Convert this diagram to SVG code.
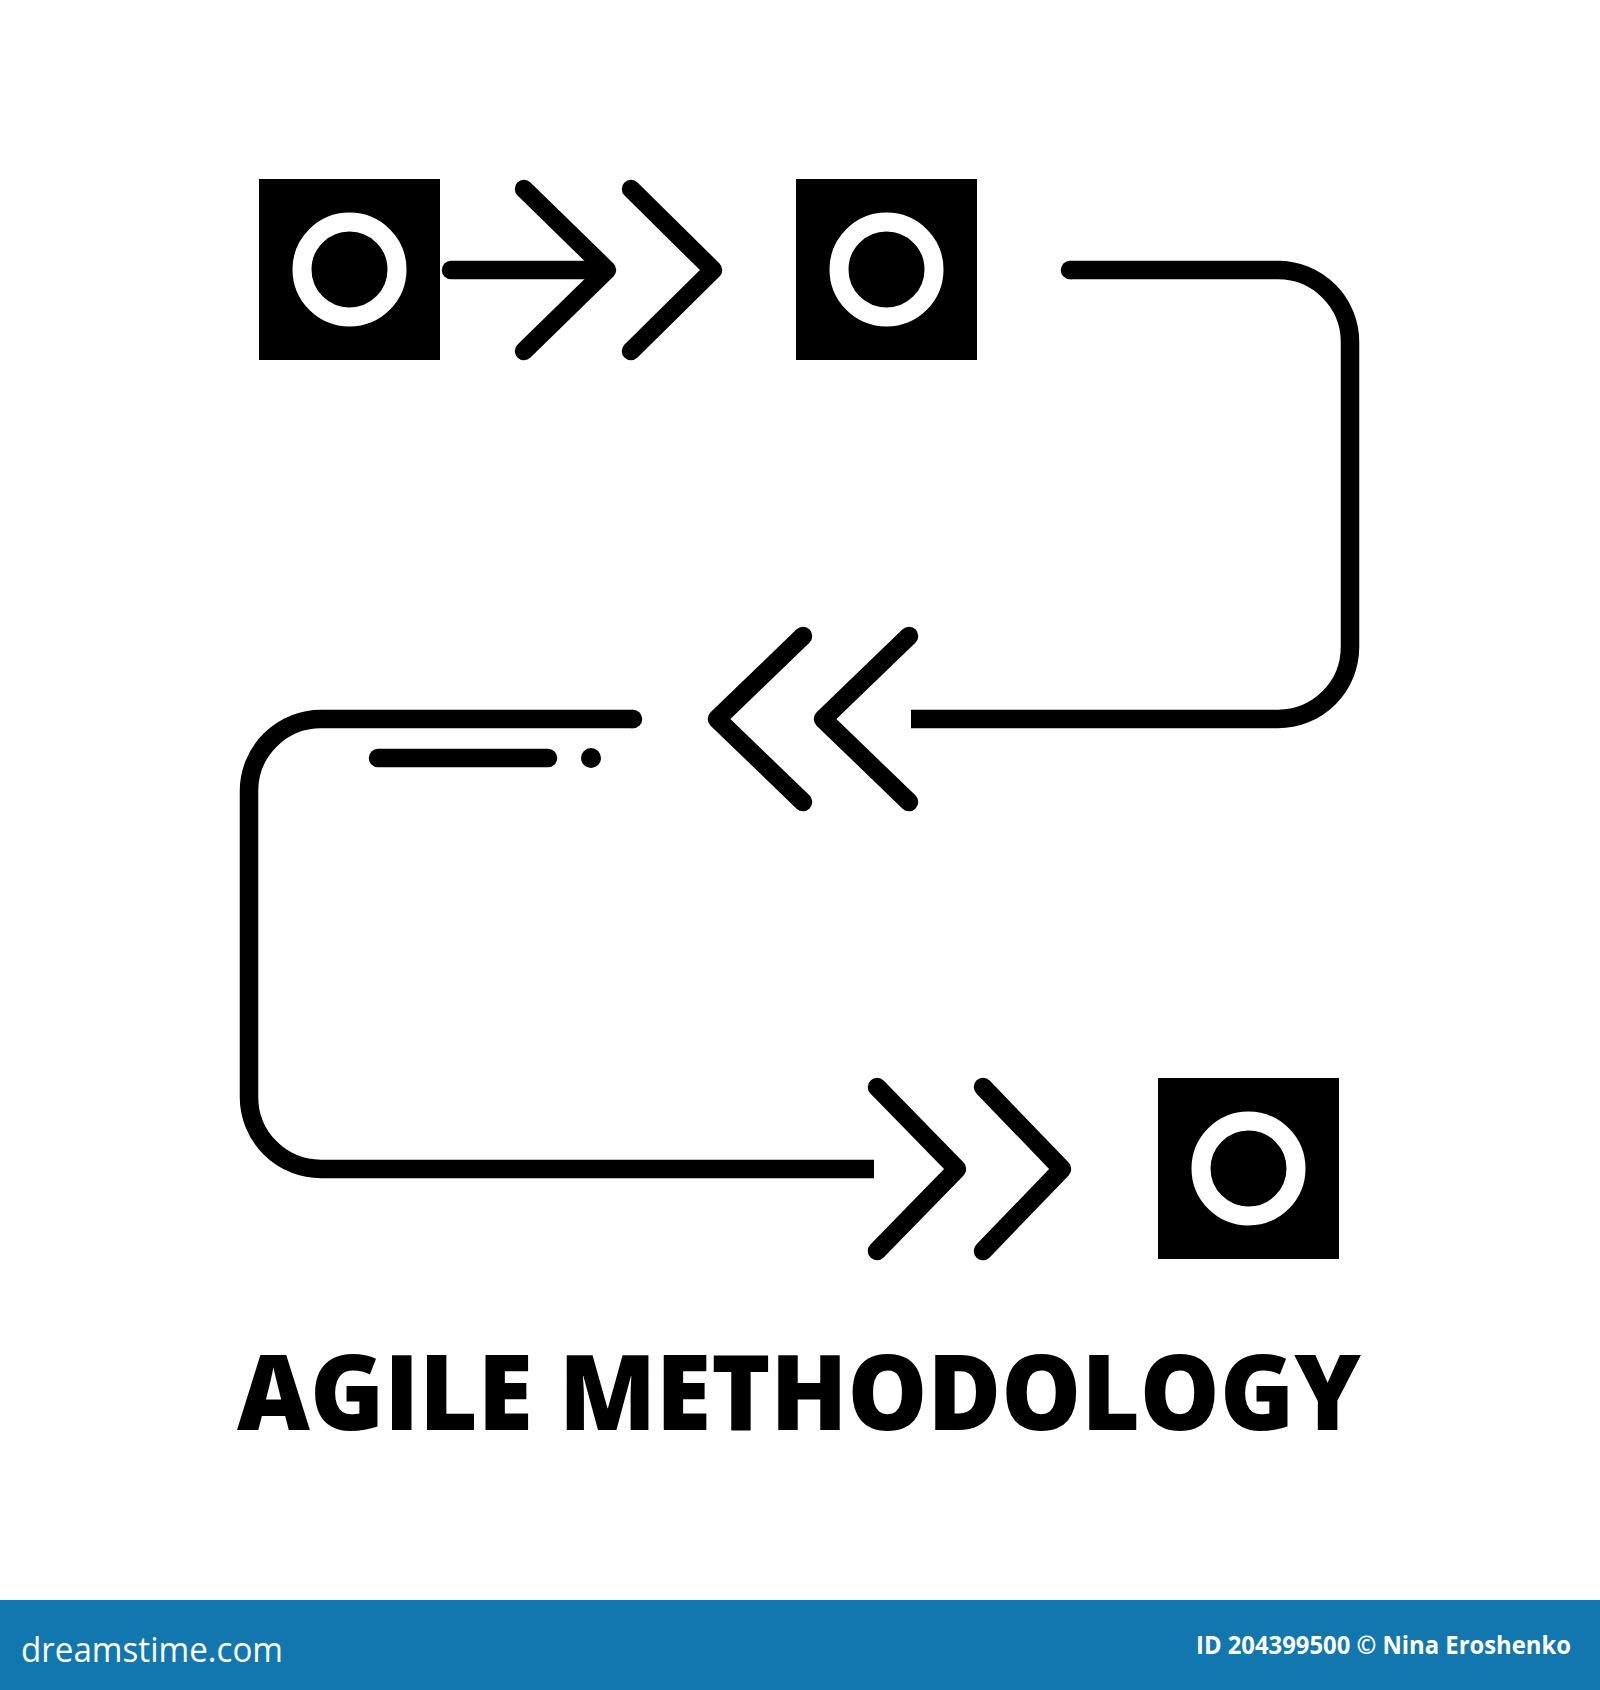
<svg xmlns="http://www.w3.org/2000/svg" width="1600" height="1690" viewBox="0 0 1600 1690">
  <style>
    .box { fill: #000; }
    .ring { fill: none; stroke: #fff; stroke-width: 19; }
    .ln { fill: none; stroke: #000; stroke-width: 18.5; stroke-linecap: round; stroke-linejoin: round; }
    .lnb { fill: none; stroke: #000; stroke-width: 18.5; stroke-linecap: butt; stroke-linejoin: round; }
    .title { font-family: "Open Sans", "Noto Sans", "Liberation Sans", sans-serif; font-weight: 800; font-size: 104px; fill: #000; }
    .foot { font-family: "Open Sans", "Noto Sans", "Liberation Sans", sans-serif; fill: #fff; }
  </style>
  <rect x="0" y="0" width="1600" height="1690" fill="#fff"/>

  <g id="node-1">
    <rect class="box" x="259" y="179" width="181" height="181"/>
    <circle class="ring" cx="349.5" cy="269.5" r="47.5"/>
  </g>
  <g id="node-2">
    <rect class="box" x="796" y="179" width="181" height="181"/>
    <circle class="ring" cx="886.5" cy="269.5" r="47.5"/>
  </g>
  <g id="node-3">
    <rect class="box" x="1158" y="1078" width="181" height="181"/>
    <circle class="ring" cx="1248.5" cy="1168.5" r="47.5"/>
  </g>

  <g id="connectors">
    <!-- top arrow node-1 to node-2 -->
    <line class="ln" x1="451" y1="270" x2="605" y2="270"/>
    <polyline class="ln" points="524,189 607,270 524,351"/>
    <polyline class="ln" points="631,189 713,270 631,351"/>

    <!-- upper right loop -->
    <path class="lnb" d="M1070,270 H1278 A72,72 0 0 1 1350,342 V647 A72,72 0 0 1 1278,719 H911"/>
    <circle cx="1070" cy="270" r="9.25" fill="#000"/>
    <polyline class="ln" points="803,636 717,719 803,802"/>
    <polyline class="ln" points="909,636 823,719 909,802"/>

    <!-- lower left loop -->
    <path class="lnb" d="M633,719 H321 A72,72 0 0 0 249,791 V1097 A72,72 0 0 0 321,1169 H874"/>
    <circle cx="633" cy="719" r="9.25" fill="#000"/>
    <polyline class="ln" points="877,1087 957,1169 877,1251"/>
    <polyline class="ln" points="983,1087 1062,1169 983,1251"/>

    <!-- decorative dash and dot -->
    <line class="ln" x1="378" y1="758" x2="548" y2="758"/>
    <circle cx="591" cy="758" r="10" fill="#000"/>
  </g>

  <text class="title" x="237" y="1430" textLength="1124" lengthAdjust="spacingAndGlyphs">AGILE METHODOLOGY</text>

  <g id="footer">
    <rect x="0" y="1600" width="1600" height="90" fill="#1277ae"/>
    <text class="foot" x="21" y="1662" font-size="34" textLength="262" lengthAdjust="spacingAndGlyphs">dreamstime.com</text>
    <text class="foot" x="1196" y="1654" font-size="25" font-weight="700" textLength="375" lengthAdjust="spacingAndGlyphs">ID 204399500 © Nina Eroshenko</text>
  </g>
</svg>
